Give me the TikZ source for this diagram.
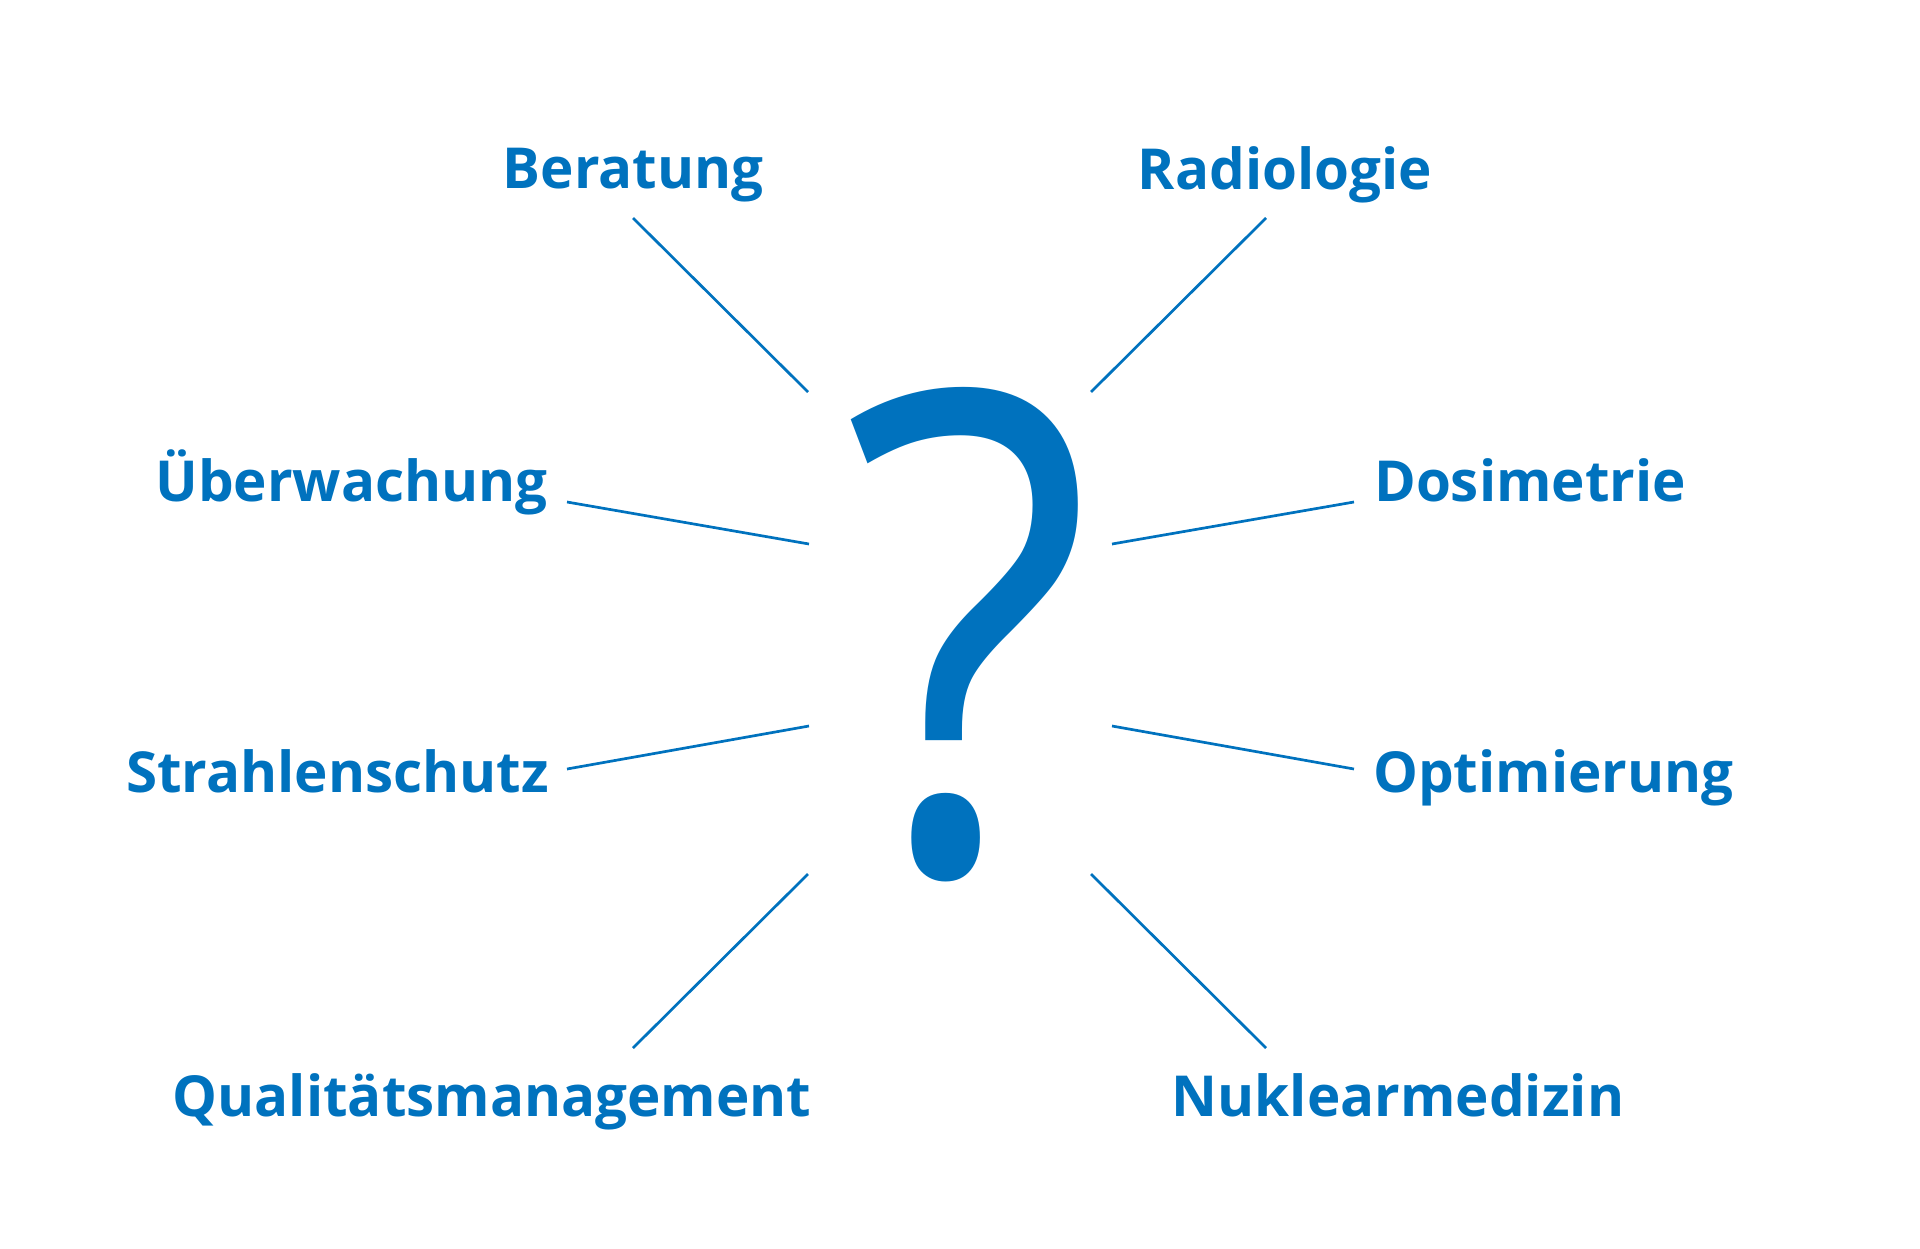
\documentclass[tikz,border=0pt]{standalone}
\usepackage{fontspec}
\setmainfont{Open Sans}
\usepackage{xcolor}
\definecolor{mainblue}{RGB}{0, 114, 190}

\begin{document}
\begin{tikzpicture}[x=1pt, y=-1pt,
    topic/.style={text=mainblue, font=\fontsize{56.5}{68}\selectfont\bfseries, inner sep=0pt},
    spoke/.style={draw=mainblue, line width=2.7pt}]
    \useasboundingbox (0,0) rectangle (1920,1248);

    % the question mark in the middle
    \node[text=mainblue, font=\fontsize{670}{700}\selectfont, inner sep=0pt, anchor=base, xscale=0.87] (qmark) at (969,872) {?};

    % topics
    \node[topic, anchor=base] (berat) at (633,188) {Beratung};
    \node[topic, anchor=base] (radio) at (1285,189) {Radiologie};
    \node[topic, anchor=base east] (ueber) at (548,501) {Überwachung};
    \node[topic, anchor=base west] (dosim) at (1374,501) {Dosimetrie};
    \node[topic, anchor=base east] (strahl) at (549,792) {Strahlenschutz};
    \node[topic, anchor=base west] (optim) at (1373,792) {Optimierung};
    \node[topic, anchor=base] (quali) at (492,1116) {Qualitätsmanagement};
    \node[topic, anchor=base] (nukl) at (1398,1116) {Nuklearmedizin};

    % spoke ends
    \coordinate (berat1) at (633,218);  \coordinate (berat2) at (808,392);
    \coordinate (radio1) at (1266,218); \coordinate (radio2) at (1091,392);
    \coordinate (ueber1) at (567,502);  \coordinate (ueber2) at (809,544);
    \coordinate (dosim1) at (1354,502); \coordinate (dosim2) at (1112,544);
    \coordinate (strahl1) at (567,769); \coordinate (strahl2) at (809,726);
    \coordinate (optim1) at (1354,769); \coordinate (optim2) at (1112,726);
    \coordinate (quali1) at (633,1048); \coordinate (quali2) at (808,874);
    \coordinate (nukl1) at (1266,1048); \coordinate (nukl2) at (1091,874);

    \draw[spoke] (berat1) -- (berat2);
    \draw[spoke] (radio1) -- (radio2);
    \draw[spoke] (ueber1) -- (ueber2);
    \draw[spoke] (dosim1) -- (dosim2);
    \draw[spoke] (strahl1) -- (strahl2);
    \draw[spoke] (optim1) -- (optim2);
    \draw[spoke] (quali1) -- (quali2);
    \draw[spoke] (nukl1) -- (nukl2);
\end{tikzpicture}
\end{document}
